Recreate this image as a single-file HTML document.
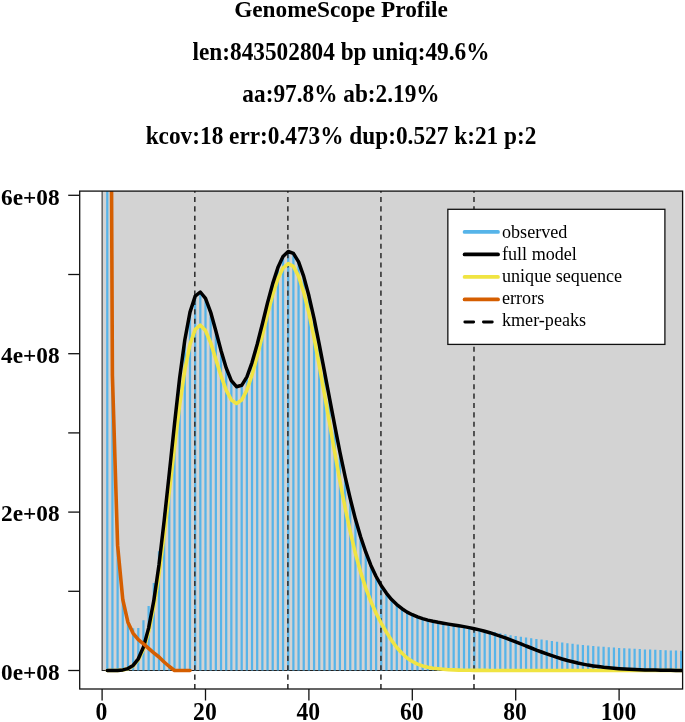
<!DOCTYPE html>
<html><head><meta charset="utf-8"><title>GenomeScope Profile</title>
<style>
html,body{margin:0;padding:0;background:#fff;}
body{width:685px;height:722px;overflow:hidden;font-family:"Liberation Serif",serif;}
svg{display:block;}
.t text{font-family:"Liberation Serif",serif;font-weight:bold;font-size:23.3px;fill:#000;}
.ax text{font-family:"Liberation Serif",serif;font-weight:bold;font-size:23.3px;fill:#000;}
.lg text{font-family:"Liberation Serif",serif;font-size:18.1px;fill:#000;}
</style></head><body>
<svg width="685" height="722" viewBox="0 0 685 722">
<rect width="685" height="722" fill="#fff"/>
<g class="t" text-anchor="middle">
<text x="341" y="16.8">GenomeScope Profile</text>
<text transform="translate(341,60.0) scale(1,1.05)">len:843502804 bp uniq:49.6%</text>
<text transform="translate(341,101.9) scale(1,1.05)">aa:97.8% ab:2.19%</text>
<text transform="translate(341,144.3) scale(1,1.05)">kcov:18 err:0.473% dup:0.527 k:21 p:2</text>
</g>
<defs><clipPath id="c"><rect x="79.7" y="191.1" width="602.9" height="497.9"/></clipPath></defs>
<g clip-path="url(#c)">
<rect x="102.1" y="171.1" width="700" height="499.4" fill="#D3D3D3" stroke="#222" stroke-width="1"/>
<path d="M107.27 670.5V186.1M112.44 670.5V375.1M117.61 670.5V545.2M122.78 670.5V599.1M127.95 670.5V620.3M133.12 670.5V628.2M138.29 670.5V627.9M143.46 670.5V620.3M148.63 670.5V605.9M153.80 670.5V583.0M158.97 670.5V551.2M164.14 670.5V512.8M169.31 670.5V469.1M174.48 670.5V424.0M179.65 670.5V378.3M184.82 670.5V340.0M189.99 670.5V312.1M195.16 670.5V296.1M200.33 670.5V292.0M205.50 670.5V298.3M210.67 670.5V312.3M215.84 670.5V330.8M221.01 670.5V350.4M226.18 670.5V367.9M231.35 670.5V380.6M236.52 670.5V386.7M241.69 670.5V385.3M246.86 670.5V376.9M252.03 670.5V362.6M257.20 670.5V344.3M262.37 670.5V323.8M267.54 670.5V302.9M272.71 670.5V283.6M277.88 670.5V267.6M283.05 670.5V256.4M288.22 670.5V251.5M293.39 670.5V253.4M298.56 670.5V261.9M303.73 670.5V276.4M308.90 670.5V295.8M314.07 670.5V318.7M319.24 670.5V344.2M324.41 670.5V371.2M329.58 670.5V398.7M334.75 670.5V425.9M339.92 670.5V452.0M345.09 670.5V476.5M350.26 670.5V498.9M355.43 670.5V519.1M360.60 670.5V536.8M365.77 670.5V552.2M370.94 670.5V565.4M376.11 670.5V576.5M381.28 670.5V585.7M386.45 670.5V593.3M391.62 670.5V599.6M396.79 670.5V604.6M401.96 670.5V608.7M407.13 670.5V612.1M412.30 670.5V614.7M417.47 670.5V616.9M422.64 670.5V618.6M427.81 670.5V620.1M432.98 670.5V621.3M438.15 670.5V622.3M443.32 670.5V623.2M448.49 670.5V624.1M453.66 670.5V624.9M458.83 670.5V625.7M464.00 670.5V626.6M469.17 670.5V627.6M474.34 670.5V628.7M479.51 670.5V629.9M484.68 670.5V631.3M489.85 670.5V630.9M495.02 670.5V632.1M500.19 670.5V633.2M505.36 670.5V634.2M510.53 670.5V635.2M515.70 670.5V636.0M520.87 670.5V636.8M526.04 670.5V637.6M531.21 670.5V638.2M536.38 670.5V638.9M541.55 670.5V639.6M546.72 670.5V640.3M551.89 670.5V641.1M557.06 670.5V641.8M562.23 670.5V642.5M567.40 670.5V643.2M572.57 670.5V643.8M577.74 670.5V644.4M582.91 670.5V644.9M588.08 670.5V645.5M593.25 670.5V645.9M598.42 670.5V646.4M603.59 670.5V646.8M608.76 670.5V647.2M613.93 670.5V647.6M619.10 670.5V647.9M624.27 670.5V648.2M629.44 670.5V648.5M634.61 670.5V648.8M639.78 670.5V649.1M644.95 670.5V649.4M650.12 670.5V649.6M655.29 670.5V649.8M660.46 670.5V650.1M665.63 670.5V650.3M670.80 670.5V650.5M675.97 670.5V650.6M681.14 670.5V650.8M686.31 670.5V650.9" stroke="#56B4E9" stroke-width="2.25" fill="none"/>
<g stroke="#333" stroke-width="1.6" stroke-dasharray="5.1 4.265"><line x1="194.81" y1="689.0" x2="194.81" y2="191.1"/><line x1="287.87" y1="689.0" x2="287.87" y2="191.1"/><line x1="380.93" y1="689.0" x2="380.93" y2="191.1"/><line x1="473.99" y1="689.0" x2="473.99" y2="191.1"/></g>
<polyline points="107.3,670.5 112.4,670.5 117.6,670.4 122.8,670.0 127.9,668.8 133.1,665.9 138.3,659.9 143.5,649.2 148.6,632.0 153.8,607.3 159.0,574.6 164.1,535.3 169.3,491.6 174.5,447.0 179.6,405.3 184.8,370.2 190.0,344.4 195.2,329.4 200.3,325.2 205.5,330.6 210.7,342.9 215.8,359.1 221.0,375.8 226.2,390.2 231.3,399.9 236.5,403.4 241.7,400.0 246.9,390.1 252.0,375.0 257.2,356.1 262.4,335.2 267.5,314.2 272.7,294.8 277.9,278.8 283.0,268.0 288.2,263.6 293.4,266.4 298.6,276.2 303.7,292.1 308.9,313.1 314.1,337.8 319.2,365.1 324.4,393.9 329.6,423.5 334.8,452.8 339.9,481.0 345.1,507.6 350.3,531.8 355.4,553.4 360.6,572.1 365.8,588.1 370.9,601.6 376.1,613.2 381.3,623.3 386.5,632.4 391.6,640.5 396.8,647.5 402.0,653.3 407.1,658.0 412.3,661.5 417.5,664.1 422.6,665.9 427.8,667.2 433.0,668.2 438.1,668.8 443.3,669.3 448.5,669.7 453.7,669.9 458.8,670.1 464.0,670.2 469.2,670.3 474.3,670.4 479.5,670.4 484.7,670.4 489.9,670.5 495.0,670.5 500.2,670.5 505.4,670.5 510.5,670.5 515.7,670.5 520.9,670.5 526.0,670.5 531.2,670.5 536.4,670.5 541.5,670.5 546.7,670.5 551.9,670.5 557.1,670.5 562.2,670.5 567.4,670.5 572.6,670.5 577.7,670.5 582.9,670.5 588.1,670.5 593.2,670.5 598.4,670.5 603.6,670.5 608.8,670.5 613.9,670.5 619.1,670.5 624.3,670.5 629.4,670.5 634.6,670.5 639.8,670.5 645.0,670.5 650.1,670.5 655.3,670.5 660.5,670.5 665.6,670.5 670.8,670.5 676.0,670.5 681.1,670.5 686.3,670.5" fill="none" stroke="#F0E442" stroke-width="3.6" stroke-linejoin="round" stroke-linecap="round"/>
<polyline points="107.3,670.5 112.4,670.5 117.6,670.4 122.8,669.9 127.9,668.6 133.1,665.4 138.3,658.8 143.5,647.0 148.6,628.1 153.8,600.7 159.0,564.7 164.1,521.2 169.3,473.1 174.5,424.0 179.6,378.3 184.8,340.0 190.0,312.1 195.2,296.1 200.3,292.0 205.5,298.3 210.7,312.3 215.8,330.8 221.0,350.4 226.2,367.9 231.3,380.6 236.5,386.7 241.7,385.3 246.9,376.9 252.0,362.6 257.2,344.3 262.4,323.8 267.5,302.9 272.7,283.6 277.9,267.6 283.0,256.4 288.2,251.5 293.4,253.4 298.6,261.9 303.7,276.4 308.9,295.8 314.1,318.7 319.2,344.2 324.4,371.2 329.6,398.7 334.8,425.9 339.9,452.0 345.1,476.5 350.3,498.9 355.4,519.1 360.6,536.8 365.8,552.2 370.9,565.4 376.1,576.5 381.3,585.7 386.5,593.3 391.6,599.6 396.8,604.6 402.0,608.7 407.1,612.1 412.3,614.7 417.5,616.9 422.6,618.6 427.8,620.1 433.0,621.3 438.1,622.3 443.3,623.2 448.5,624.1 453.7,624.9 458.8,625.7 464.0,626.6 469.2,627.6 474.3,628.7 479.5,629.9 484.7,631.3 489.9,632.7 495.0,634.4 500.2,636.1 505.4,637.9 510.5,639.9 515.7,641.9 520.9,643.9 526.0,646.0 531.2,648.0 536.4,650.1 541.5,652.0 546.7,653.9 551.9,655.7 557.1,657.4 562.2,659.0 567.4,660.5 572.6,661.8 577.7,663.0 582.9,664.1 588.1,665.1 593.2,665.9 598.4,666.6 603.6,667.3 608.8,667.8 613.9,668.3 619.1,668.7 624.3,669.0 629.4,669.3 634.6,669.5 639.8,669.7 645.0,669.9 650.1,670.0 655.3,670.1 660.5,670.2 665.6,670.3 670.8,670.3 676.0,670.4 681.1,670.4 686.3,670.4" fill="none" stroke="#000" stroke-width="3.5" stroke-linejoin="round" stroke-linecap="round"/>
<polyline points="107.3,-755.1 112.4,375.1 117.6,545.4 122.8,599.7 127.9,622.2 133.1,633.3 138.3,639.6 143.5,643.8 148.6,648.3 153.8,652.8 159.0,657.0 164.1,662.0 169.3,666.5 174.5,670.5 179.6,670.5 184.8,670.5 190.0,670.5" fill="none" stroke="#D55E00" stroke-width="3.6" stroke-linejoin="round" stroke-linecap="round"/>
</g>
<rect x="79.7" y="191.1" width="602.9" height="497.9" fill="none" stroke="#111" stroke-width="1.3"/>
<g stroke="#111" stroke-width="1.3"><line x1="102.1" y1="689.0" x2="102.1" y2="700.5"/><line x1="205.5" y1="689.0" x2="205.5" y2="700.5"/><line x1="308.9" y1="689.0" x2="308.9" y2="700.5"/><line x1="412.3" y1="689.0" x2="412.3" y2="700.5"/><line x1="515.7" y1="689.0" x2="515.7" y2="700.5"/><line x1="619.1" y1="689.0" x2="619.1" y2="700.5"/><line x1="68.2" y1="670.5" x2="79.7" y2="670.5"/><line x1="68.2" y1="591.3" x2="79.7" y2="591.3"/><line x1="68.2" y1="512.1" x2="79.7" y2="512.1"/><line x1="68.2" y1="432.9" x2="79.7" y2="432.9"/><line x1="68.2" y1="353.7" x2="79.7" y2="353.7"/><line x1="68.2" y1="274.5" x2="79.7" y2="274.5"/><line x1="68.2" y1="195.3" x2="79.7" y2="195.3"/></g>
<g class="ax"><text transform="translate(101.5,720.3) scale(1.015,1.055)" text-anchor="middle">0</text><text transform="translate(204.9,720.3) scale(1.015,1.055)" text-anchor="middle">20</text><text transform="translate(308.3,720.3) scale(1.015,1.055)" text-anchor="middle">40</text><text transform="translate(411.7,720.3) scale(1.015,1.055)" text-anchor="middle">60</text><text transform="translate(515.1,720.3) scale(1.015,1.055)" text-anchor="middle">80</text><text transform="translate(618.5,720.3) scale(1.015,1.055)" text-anchor="middle">100</text><text transform="translate(59.6,679.7) scale(1,1.03)" text-anchor="end">0e+08</text><text transform="translate(59.6,521.3) scale(1,1.03)" text-anchor="end">2e+08</text><text transform="translate(59.6,362.9) scale(1,1.03)" text-anchor="end">4e+08</text><text transform="translate(59.6,204.5) scale(1,1.03)" text-anchor="end">6e+08</text></g>
<g class="lg"><rect x="447.85" y="209.3" width="217.05" height="135.1" fill="#fff" stroke="#111" stroke-width="1.3"/><line x1="464.55" y1="231.9" x2="498.05" y2="231.9" stroke="#56B4E9" stroke-width="3.7" stroke-linecap="round"/><text x="502.0" y="238.1">observed</text><line x1="464.55" y1="254.4" x2="498.05" y2="254.4" stroke="#000" stroke-width="3.7" stroke-linecap="round"/><text x="502.0" y="260.1">full model</text><line x1="464.55" y1="276.9" x2="498.05" y2="276.9" stroke="#F0E442" stroke-width="3.7" stroke-linecap="round"/><text x="502.0" y="282.0">unique sequence</text><line x1="464.55" y1="299.4" x2="498.05" y2="299.4" stroke="#D55E00" stroke-width="3.7" stroke-linecap="round"/><text x="502.0" y="303.9">errors</text><line x1="464.8" y1="322.0" x2="492.4" y2="322.0" stroke="#000" stroke-width="2.8" stroke-dasharray="8.9 9.7" stroke-linecap="round"/><text x="502.0" y="325.9">kmer-peaks</text></g>
</svg>
</body></html>
